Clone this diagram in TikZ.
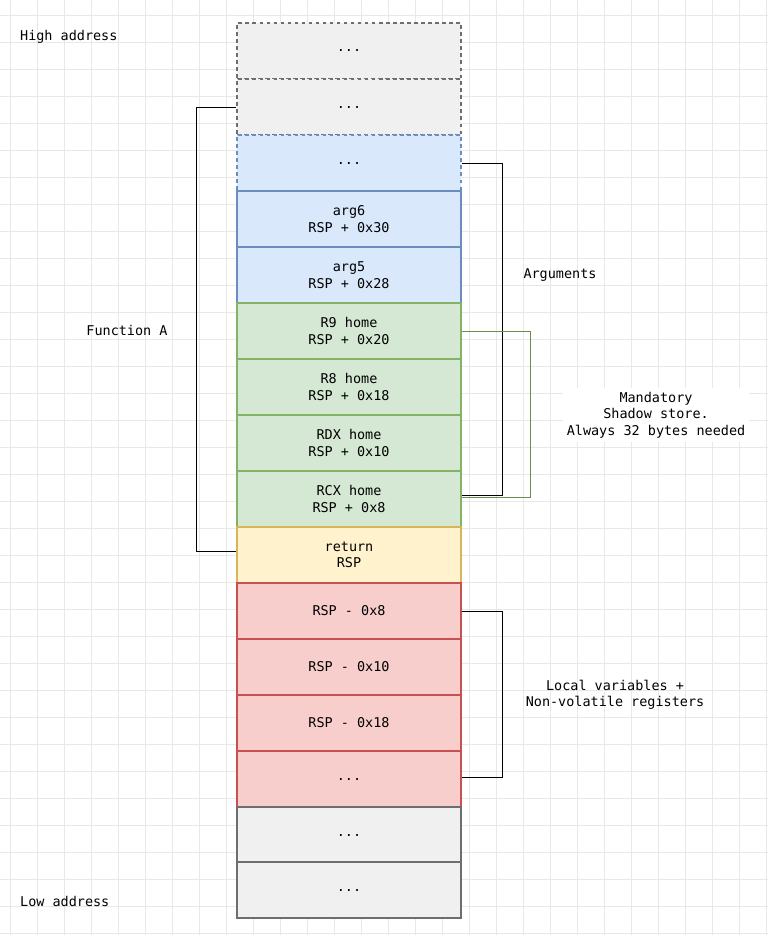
\documentclass[tikz,border=0pt]{standalone}
\usepackage{fontspec}
\setmonofont{DejaVu Sans Mono}
\usetikzlibrary{positioning,patterns}
\definecolor{gridc}{RGB}{232,232,232}
\definecolor{grayd}{RGB}{110,110,110}
\definecolor{blued}{RGB}{108,142,191}
\definecolor{bluel}{RGB}{218,232,252}
\definecolor{greend}{RGB}{130,179,102}
\definecolor{greenl}{RGB}{213,232,212}
\definecolor{yelld}{RGB}{214,182,86}
\definecolor{yelll}{RGB}{255,242,204}
\definecolor{redd}{RGB}{200,80,80}
\definecolor{redl}{RGB}{248,206,204}
\definecolor{grayl}{RGB}{240,240,240}
\tikzset{
  cell/.style={draw, line width=1.2pt, minimum width=6.72cm, minimum height=1.68cm,
    inner sep=0pt, align=center, font=\ttfamily\fontsize{11.5}{14}\selectfont},
  gcell/.style={cell, draw=grayd, fill=grayl},
  bcell/.style={cell, draw=blued, fill=bluel},
  ncell/.style={cell, draw=greend, fill=greenl},
  ycell/.style={cell, draw=yelld, fill=yelll},
  rcell/.style={cell, draw=redd, fill=redl},
  lbl/.style={font=\ttfamily\fontsize{11.5}{14}\selectfont, align=center},
  brk/.style={line width=0.8pt}
}
\begin{document}
\begin{tikzpicture}[x=0.03cm, y=-0.03cm]
  \useasboundingbox (0,0) rectangle (768,935);
  % background grid
  \foreach \i in {0,...,28} \draw[gridc] (\i*27+10,0) -- (\i*27+10,935);
  \foreach \j in {0,...,34} \draw[gridc] (0,\j*27+15) -- (768,\j*27+15);
  % stack cells
  \node[gcell, dashed] (top1) at (349,51) {...};
  \node[gcell, dashed] (top2) at (349,107) {...};
  \node[bcell, dashed] (argn) at (349,163) {...};
  \node[bcell] (arg6) at (349,219) {arg6\\RSP + 0x30};
  \node[bcell] (arg5) at (349,275) {arg5\\RSP + 0x28};
  \node[ncell] (r9) at (349,331) {R9 home\\RSP + 0x20};
  \node[ncell] (r8) at (349,387) {R8 home\\RSP + 0x18};
  \node[ncell] (rdx) at (349,443) {RDX home\\RSP + 0x10};
  \node[ncell] (rcx) at (349,499) {RCX home\\RSP + 0x8};
  \node[ycell] (ret) at (349,555) {return\\RSP};
  \node[rcell] (loc1) at (349,611) {RSP - 0x8};
  \node[rcell] (loc2) at (349,667) {RSP - 0x10};
  \node[rcell] (loc3) at (349,723) {RSP - 0x18};
  \node[rcell] (locn) at (349,779) {...};
  \node[gcell] (bot1) at (349,835) {...};
  \node[gcell] (bot2) at (349,890) {...};
  % labels
  \node[lbl, anchor=west] (hi) at (16,37) {High address};
  \node[lbl, anchor=west] (lo) at (16,901) {Low address};
  \node[lbl] (funa) at (127,330) {Function A};
  \node[lbl] (args) at (560,275) {Arguments};
  \node[lbl, fill=white] (shadow) at (656,415) {Mandatory\\Shadow store.\\Always 32 bytes needed};
  \node[lbl] (locals) at (615,695) {Local variables +\\Non-volatile registers};
  % brackets
  \draw[brk] (top2.west) -| (196,551) -- (ret.west |- 0,551);
  \draw[brk] (argn.east) -| (502,495) -- (rcx.east |- 0,495);
  \draw[brk, draw=greend!80!black] (r9.east) -| (530,497) -- (rcx.east |- 0,497);
  \draw[brk] (loc1.east) -| (502,777) -- (locn.east |- 0,777);
\end{tikzpicture}
\end{document}
